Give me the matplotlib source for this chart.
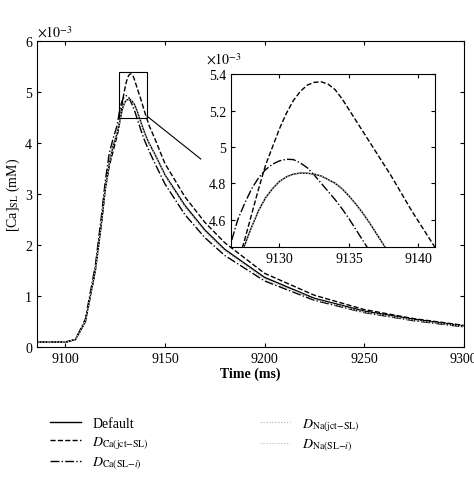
import numpy as np
import matplotlib
matplotlib.use('agg')
import matplotlib.pyplot as plt

plt.rcParams['font.family'] = 'Liberation Serif'
plt.rcParams['mathtext.fontset'] = 'stix'
plt.rcParams['font.size'] = 10

##### data (Ca in 1e-3 mM)
t = [9085, 9100, 9105, 9110, 9115, 9118, 9120, 9122, 9124,
     9126, 9126.5, 9127, 9127.5, 9128, 9128.5, 9129, 9129.5, 9130, 9130.5, 9131, 9131.5,
     9132, 9132.5, 9133, 9133.5, 9134, 9134.5, 9135, 9135.5, 9136, 9136.5, 9137, 9137.5,
     9138, 9138.5, 9139, 9139.5, 9140,
     9142, 9145, 9150, 9160, 9170, 9180, 9200, 9225, 9250, 9275, 9300]
ca_default = [0.1, 0.1, 0.15, 0.5, 1.5, 2.4, 3.1, 3.6, 3.95,
              4.2, 4.28, 4.36, 4.46, 4.56, 4.65, 4.72, 4.77, 4.81, 4.835, 4.85, 4.856,
              4.855, 4.85, 4.84, 4.82, 4.8, 4.77, 4.73, 4.685, 4.635, 4.58, 4.52, 4.46,
              4.4, 4.345, 4.29, 4.235, 4.18,
              4.0, 3.78, 3.38, 2.78, 2.3, 1.92, 1.37, 0.96, 0.71, 0.55, 0.42]
ca_jct_sl = [0.1, 0.1, 0.15, 0.5, 1.5, 2.4, 3.1, 3.55, 3.85,
             4.15, 4.25, 4.36, 4.49, 4.63, 4.77, 4.9, 5.0, 5.1, 5.185, 5.255, 5.305,
             5.34, 5.355, 5.358, 5.345, 5.315, 5.265, 5.205, 5.145, 5.085, 5.025, 4.965, 4.905,
             4.845, 4.78, 4.715, 4.65, 4.59,
             4.35, 4.08, 3.6, 2.95, 2.45, 2.05, 1.45, 1.02, 0.74, 0.56, 0.43]
ca_sl_i = [0.1, 0.1, 0.15, 0.55, 1.6, 2.55, 3.25, 3.8, 4.1,
           4.35, 4.47, 4.6, 4.69, 4.77, 4.83, 4.875, 4.905, 4.923, 4.932, 4.93, 4.912,
           4.885, 4.845, 4.8, 4.755, 4.71, 4.66, 4.605, 4.545, 4.485, 4.425, 4.365, 4.305,
           4.245, 4.19, 4.135, 4.08, 4.03,
           3.85, 3.6, 3.2, 2.6, 2.15, 1.8, 1.3, 0.92, 0.68, 0.52, 0.4]
na_jct_sl = ca_default[:38] + [3.99, 3.77, 3.36, 2.75, 2.27, 1.89, 1.34, 0.94, 0.69, 0.53, 0.41]
na_sl_i = na_jct_sl

series = [(ca_default, '-', 'black', 1.0, 'Default'),
          (ca_jct_sl, '--', 'black', 1.0, r'$D_{\rm Ca(jct{-}SL)}$'),
          (ca_sl_i, '-.', 'black', 1.0, r'$D_{{\rm Ca(SL{-}}i{\rm )}}$'),
          (na_jct_sl, ':', '#aaaaaa', 0.8, r'$D_{\rm Na(jct{-}SL)}$'),
          (na_sl_i, ':', '#bbbbbb', 0.8, r'$D_{{\rm Na(SL{-}}i{\rm )}}$')]

fig = plt.figure(figsize=(4.74, 4.85), dpi=100)
ax = fig.add_axes([0.078, 0.282, 0.9, 0.631])
tt = np.array(t)
for vals, ls, c, lw, lab in series:
    ax.plot(tt, np.array(vals) * 1e-3, ls=ls, color=c, lw=lw, label=lab)
ax.set_xlim(9085.7, 9300)
ax.set_ylim(0, 6e-3)
ax.set_xticks([9100, 9150, 9200, 9250, 9300])
ax.set_yticks(np.arange(0, 7) * 1e-3)
ax.set_yticklabels([str(i) for i in range(7)])
ax.text(0.0, 1.005, r'$\times10^{-3}$', transform=ax.transAxes, ha='left', va='bottom')
ax.tick_params(direction='in', top=True, right=True, length=3)
ax.set_xlabel('Time (ms)', fontweight='bold', labelpad=1)
ax.set_ylabel(r'[Ca]$_{\rm SL}$ (mM)', labelpad=2)

# zoom box and pointer
ax.add_patch(plt.Rectangle((9127, 4.5e-3), 14, 0.9e-3, fill=False, lw=0.8, color='black'))
ax.plot([9141, 9168], [4.53e-3, 3.69e-3], color='black', lw=0.8)

ins = fig.add_axes([0.487, 0.489, 0.431, 0.356])
ins.set_facecolor('white')
for vals, ls, c, lw, lab in series:
    ins.plot(tt, np.array(vals) * 1e-3, ls=ls, color=c, lw=lw)
ins.set_xlim(9126.5, 9141.2)
ins.set_ylim(4.45e-3, 5.4e-3)
ins.set_xticks([9130, 9135, 9140])
ins.set_yticks([4.6e-3, 4.8e-3, 5.0e-3, 5.2e-3, 5.4e-3])
ins.set_yticklabels(['4.6', '4.8', '5', '5.2', '5.4'])
ins.text(-0.12, 1.045, r'$\times10^{-3}$', transform=ins.transAxes, ha='left', va='bottom')
ins.tick_params(direction='in', top=True, right=True, length=3)

fig.legend(loc='lower left', bbox_to_anchor=(0.08, 0.0), ncol=2, frameon=False,
           columnspacing=8, handlelength=2.2, labelspacing=0.3, fontsize=10)
fig.savefig('out.png', dpi=100)
